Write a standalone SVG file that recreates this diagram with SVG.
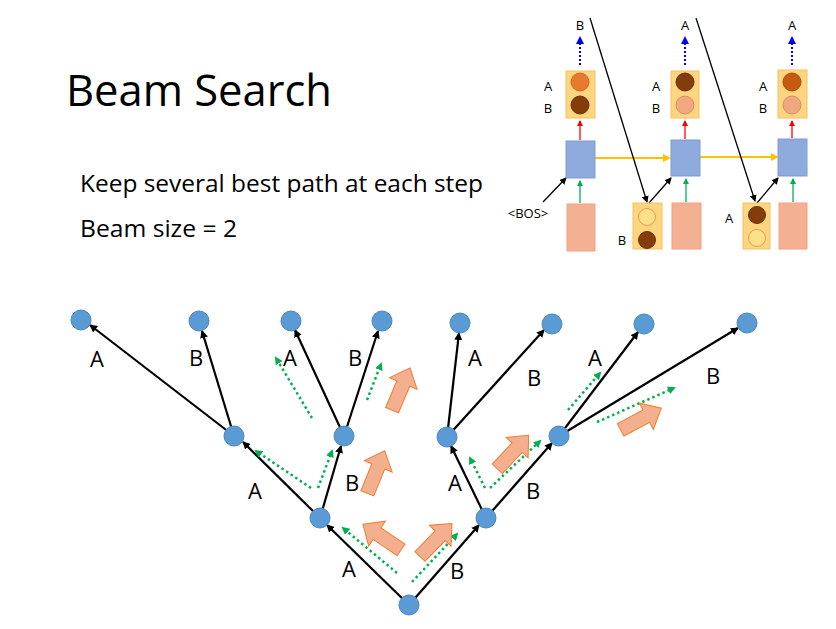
<svg xmlns="http://www.w3.org/2000/svg" width="836" height="629" viewBox="0 0 836 629">
<style>
text{font-family:"Open Sans","Liberation Sans",sans-serif;fill:#000}
.lb{font-size:22px;text-anchor:middle}
.sm{font-size:13px;text-anchor:middle}
.node{fill:#5B9BD5;stroke:#4A86BE;stroke-width:1}
.e{stroke:#000;stroke-width:2.2;fill:none;marker-end:url(#ah)}
.g{stroke:#00B050;stroke-width:2.5;stroke-dasharray:2.5 3;fill:none;marker-end:url(#gh)}
.ba{fill:#F4B08E;stroke:#ED7D31;stroke-width:1}
.ob{fill:#FFD580;stroke:#F5C060}
.bb{fill:#8FAADC;stroke:#7F9BD6}
.pk{fill:#F4B093;stroke:#F4A080}
</style>
<defs>
<marker id="ah" markerWidth="8" markerHeight="8" refX="7" refY="4" orient="auto" markerUnits="userSpaceOnUse"><path d="M0,0L8,4L0,8z" fill="#000"/></marker>
<marker id="gh" markerWidth="8" markerHeight="8" refX="6" refY="4" orient="auto" markerUnits="userSpaceOnUse"><path d="M0,0L8,4L0,8z" fill="#00B050"/></marker>
<marker id="rh" markerWidth="6" markerHeight="6" refX="5" refY="3" orient="auto" markerUnits="userSpaceOnUse"><path d="M0,0L6,3L0,6z" fill="#FF0000"/></marker>
<marker id="gnh" markerWidth="6" markerHeight="6" refX="5" refY="3" orient="auto" markerUnits="userSpaceOnUse"><path d="M0,0L6,3L0,6z" fill="#00B050"/></marker>
<marker id="bh" markerWidth="8" markerHeight="8" refX="6" refY="4" orient="auto" markerUnits="userSpaceOnUse"><path d="M0,0L8,4L0,8z" fill="#0000FF"/></marker>
<marker id="yh" markerWidth="8" markerHeight="8" refX="6" refY="4" orient="auto" markerUnits="userSpaceOnUse"><path d="M0,0L8,4L0,8z" fill="#FFC000"/></marker>
<marker id="kh" markerWidth="7" markerHeight="7" refX="6" refY="3.5" orient="auto" markerUnits="userSpaceOnUse"><path d="M0,0L7,3.5L0,7z" fill="#000"/></marker>
<path id="blk" d="M-23,-7L6,-7L6,-15L23,0L6,15L6,7L-23,7z"/>
</defs>

<text x="66" y="106" style="font-size:43px" textLength="266" lengthAdjust="spacingAndGlyphs">Beam Search</text>
<text x="80" y="192" style="font-size:23px" textLength="403" lengthAdjust="spacingAndGlyphs">Keep several best path at each step</text>
<text x="80" y="237" style="font-size:23px" textLength="157" lengthAdjust="spacingAndGlyphs">Beam size = 2</text>

<g id="inset">
<g id="inset-lines" fill="none">
<line x1="580" y1="65" x2="580" y2="38" stroke="#0000FF" stroke-width="2" stroke-dasharray="2 2" marker-end="url(#bh)"/>
<line x1="685" y1="65" x2="685" y2="38" stroke="#0000FF" stroke-width="2" stroke-dasharray="2 2" marker-end="url(#bh)"/>
<line x1="792" y1="65" x2="792" y2="38" stroke="#0000FF" stroke-width="2" stroke-dasharray="2 2" marker-end="url(#bh)"/>
<line x1="580" y1="140" x2="580" y2="121" stroke="#FF0000" stroke-width="1.3" marker-end="url(#rh)"/>
<line x1="685" y1="139" x2="685" y2="121" stroke="#FF0000" stroke-width="1.3" marker-end="url(#rh)"/>
<line x1="792" y1="138" x2="792" y2="121" stroke="#FF0000" stroke-width="1.3" marker-end="url(#rh)"/>
<line x1="580" y1="203" x2="580" y2="181" stroke="#00B050" stroke-width="1.3" marker-end="url(#gnh)"/>
<line x1="686" y1="202" x2="686" y2="179" stroke="#00B050" stroke-width="1.3" marker-end="url(#gnh)"/>
<line x1="793" y1="202" x2="793" y2="179" stroke="#00B050" stroke-width="1.3" marker-end="url(#gnh)"/>
<line x1="595" y1="158" x2="669" y2="158" stroke="#FFC000" stroke-width="2" marker-end="url(#yh)"/>
<line x1="700" y1="157" x2="777" y2="157" stroke="#FFC000" stroke-width="2" marker-end="url(#yh)"/>
<line x1="590" y1="18" x2="647" y2="202" stroke="#000" stroke-width="1.3" marker-end="url(#kh)"/>
<line x1="696" y1="18" x2="755" y2="201" stroke="#000" stroke-width="1.3" marker-end="url(#kh)"/>
<line x1="649" y1="203" x2="671" y2="178" stroke="#000" stroke-width="1.3" marker-end="url(#kh)"/>
<line x1="757" y1="203" x2="778" y2="178" stroke="#000" stroke-width="1.3" marker-end="url(#kh)"/>
<line x1="543" y1="202" x2="566" y2="178" stroke="#000" stroke-width="1.3" marker-end="url(#kh)"/>
</g>
<g id="step1">
<rect class="ob" x="566" y="71" width="29" height="47"/>
<circle cx="580" cy="82" r="9" fill="#E87A30" stroke="#D06A20"/>
<circle cx="580" cy="105" r="9" fill="#843C0C" stroke="#6E300A"/>
<rect class="bb" x="566" y="141" width="29" height="37"/>
<rect class="pk" x="567" y="204" width="28" height="47"/>
</g>
<g id="step2">
<rect class="ob" x="671" y="71" width="28" height="47"/>
<circle cx="685" cy="82" r="9" fill="#843C0C" stroke="#6E300A"/>
<circle cx="685" cy="105" r="9" fill="#F0A880" stroke="#D89060"/>
<rect class="bb" x="671" y="140" width="29" height="36"/>
<rect class="pk" x="672" y="203" width="29" height="46"/>
</g>
<g id="step3">
<rect class="ob" x="778" y="70" width="29" height="48"/>
<circle cx="792" cy="82" r="9" fill="#C55A11" stroke="#A84C0E"/>
<circle cx="792" cy="105" r="9" fill="#F0A880" stroke="#D89060"/>
<rect class="bb" x="778" y="139" width="29" height="37"/>
<rect class="pk" x="779" y="203" width="28" height="46"/>
</g>
<g id="sel1">
<rect class="ob" x="633" y="203" width="29" height="46"/>
<circle cx="647" cy="217" r="8.5" fill="#FFE08A" stroke="#E0A050"/>
<circle cx="647" cy="240" r="8.5" fill="#843C0C" stroke="#6E300A"/>
</g>
<g id="sel2">
<rect class="ob" x="743" y="203" width="27" height="46"/>
<circle cx="757" cy="215" r="8.5" fill="#843C0C" stroke="#6E300A"/>
<circle cx="757" cy="238" r="8.5" fill="#FFE08A" stroke="#E0A050"/>
</g>
<g id="inset-text">
<text class="sm" x="580" y="30">B</text>
<text class="sm" x="685" y="30">A</text>
<text class="sm" x="792" y="30">A</text>
<text class="sm" x="548" y="91">A</text>
<text class="sm" x="548" y="113">B</text>
<text class="sm" x="656" y="91">A</text>
<text class="sm" x="656" y="113">B</text>
<text class="sm" x="763" y="91">A</text>
<text class="sm" x="763" y="113">B</text>
<text class="sm" x="528" y="218">&lt;BOS&gt;</text>
<text class="sm" x="622" y="245">B</text>
<text class="sm" x="729" y="223">A</text>
</g>
</g>

<g id="connectors">
<line class="e" x1="409" y1="605" x2="327" y2="525"/>
<line class="e" x1="409" y1="605" x2="479" y2="525"/>
<line class="e" x1="320" y1="518" x2="243" y2="442"/>
<line class="e" x1="320" y1="518" x2="341" y2="446"/>
<line class="e" x1="486" y1="518" x2="451" y2="446"/>
<line class="e" x1="486" y1="518" x2="552" y2="443"/>
<line class="e" x1="234" y1="436" x2="90" y2="325"/>
<line class="e" x1="234" y1="436" x2="202" y2="331"/>
<line class="e" x1="344" y1="436" x2="295" y2="330"/>
<line class="e" x1="344" y1="436" x2="378" y2="331"/>
<line class="e" x1="447" y1="437" x2="459" y2="333"/>
<line class="e" x1="447" y1="437" x2="544" y2="330"/>
<line class="e" x1="559" y1="436" x2="638" y2="332"/>
<line class="e" x1="559" y1="436" x2="738" y2="328"/>
</g>

<g id="beam-paths">
<line class="g" x1="397" y1="573" x2="343" y2="528"/>
<line class="g" x1="412" y1="582" x2="457" y2="534"/>
<line class="g" x1="311" y1="488" x2="256" y2="451"/>
<line class="g" x1="318" y1="488" x2="332" y2="451"/>
<line class="g" x1="312" y1="418" x2="276" y2="358"/>
<line class="g" x1="367" y1="400" x2="381" y2="364"/>
<line class="g" x1="485" y1="488" x2="470" y2="458"/>
<line class="g" x1="490" y1="488" x2="540" y2="441"/>
<line class="g" x1="568" y1="410" x2="600" y2="373"/>
<line class="g" x1="597" y1="422" x2="674" y2="388"/>
</g>

<g id="block-arrows">
<use href="#blk" class="ba" transform="translate(382,537) rotate(-146)"/>
<use href="#blk" class="ba" transform="translate(436,540) rotate(-46)"/>
<use href="#blk" class="ba" transform="translate(376,472) rotate(-68)"/>
<use href="#blk" class="ba" transform="translate(401,389) rotate(-67)"/>
<use href="#blk" class="ba" transform="translate(513,452) rotate(-47)"/>
<use href="#blk" class="ba" transform="translate(641,419) rotate(-28)"/>
</g>

<g id="nodes">
<circle id="n0" class="node" cx="409" cy="605" r="10"/>
<circle id="n1" class="node" cx="320" cy="518" r="10"/>
<circle id="n2" class="node" cx="486" cy="518" r="10"/>
<circle id="n3" class="node" cx="234" cy="436" r="10"/>
<circle id="n4" class="node" cx="344" cy="436" r="10"/>
<circle id="n5" class="node" cx="447" cy="437" r="10"/>
<circle id="n6" class="node" cx="559" cy="436" r="10"/>
<circle id="n7" class="node" cx="81" cy="320" r="10"/>
<circle id="n8" class="node" cx="199" cy="321" r="10"/>
<circle id="n9" class="node" cx="291" cy="321" r="10"/>
<circle id="n10" class="node" cx="382" cy="321" r="10"/>
<circle id="n11" class="node" cx="460" cy="323" r="10"/>
<circle id="n12" class="node" cx="552" cy="324" r="10"/>
<circle id="n13" class="node" cx="644" cy="324" r="10"/>
<circle id="n14" class="node" cx="747" cy="323" r="10"/>
</g>

<g id="edge-labels">
<text class="lb" x="349" y="577">A</text>
<text class="lb" x="457" y="579">B</text>
<text class="lb" x="255" y="499">A</text>
<text class="lb" x="352" y="491">B</text>
<text class="lb" x="455" y="491">A</text>
<text class="lb" x="533" y="499">B</text>
<text class="lb" x="97" y="367">A</text>
<text class="lb" x="196" y="366">B</text>
<text class="lb" x="290" y="366">A</text>
<text class="lb" x="355" y="366">B</text>
<text class="lb" x="475" y="366">A</text>
<text class="lb" x="534" y="386">B</text>
<text class="lb" x="595" y="366">A</text>
<text class="lb" x="713" y="384">B</text>
</g>
</svg>
